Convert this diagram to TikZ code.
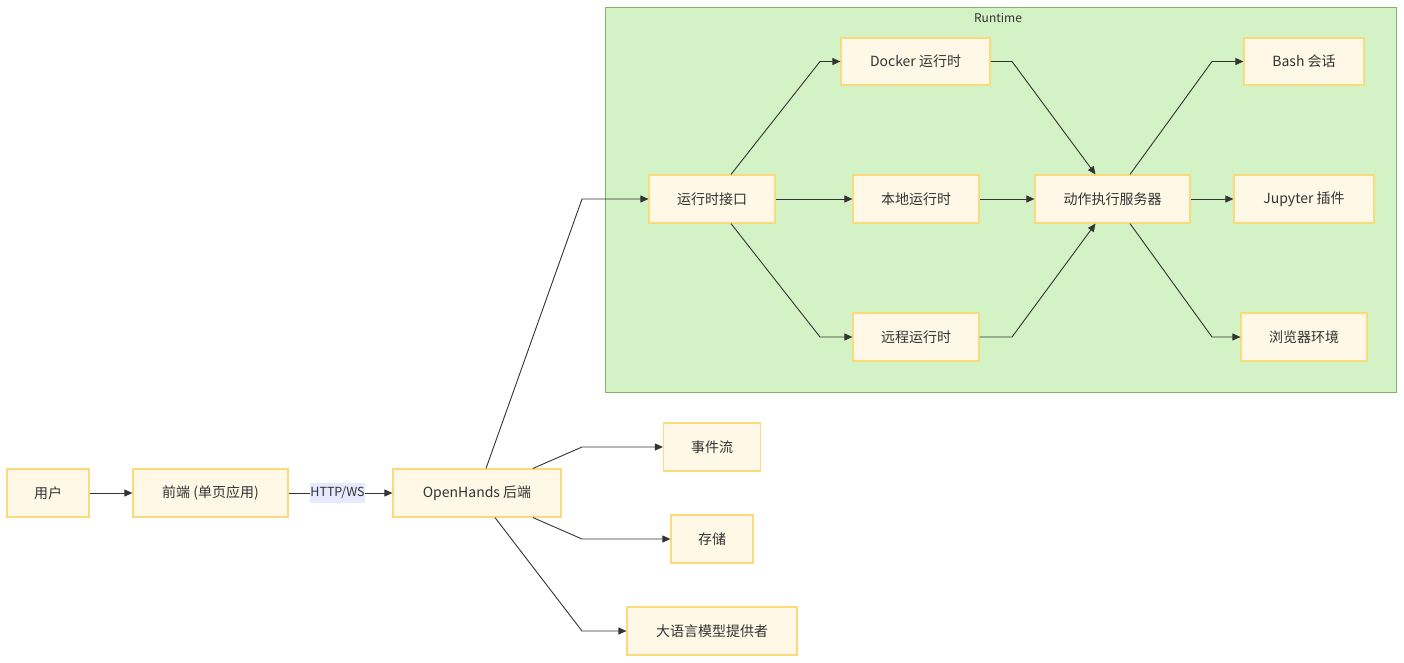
\documentclass[tikz,border=0pt]{standalone}
\usepackage{fontspec}
\setmainfont{Noto Sans CJK SC}
\usetikzlibrary{arrows.meta,calc}
\definecolor{nodefill}{HTML}{FFF8E6}
\definecolor{nodeline}{HTML}{FADA7A}
\definecolor{clfill}{HTML}{D3F2C6}
\definecolor{clline}{HTML}{82B366}
\definecolor{lblbg}{HTML}{E8E8FF}
\definecolor{txt}{HTML}{333333}
\definecolor{edge}{HTML}{333333}
\tikzset{
  box/.style={draw=nodeline, fill=nodefill, line width=1.2pt, minimum height=48pt, inner sep=0pt, text=txt, font=\fontsize{14}{16}\selectfont},
  conn/.style={draw=edge, line width=0.9pt, -{Triangle[length=8pt,width=7pt]}},
}
\begin{document}
\begin{tikzpicture}[x=1pt,y=-1pt]
\useasboundingbox (0,0) rectangle (1404,662);
% cluster
\node[draw=clline, fill=clfill, line width=1pt, minimum width=791pt, minimum height=385pt, inner sep=0pt] (rt) at (1000.5,199.5) {};
\node[text=txt, font=\fontsize{12}{14}\selectfont] (rtl) at (998,18) {Runtime};
% nodes
\node[box, minimum width=82pt] (user) at (48,493) {用户};
\node[box, minimum width=155pt] (fe) at (210.5,493) {前端 (单页应用)};
\node[box, minimum width=168pt] (be) at (477,493) {OpenHands 后端};
\node[box, minimum width=97pt] (ev) at (712,447) {事件流};
\node[box, minimum width=82pt] (st) at (712,539) {存储};
\node[box, minimum width=170pt] (llm) at (712,631) {大语言模型提供者};
\node[box, minimum width=126pt] (ri) at (712,199) {运行时接口};
\node[box, minimum width=149pt, minimum height=47pt] (dk) at (915.5,61.5) {Docker 运行时};
\node[box, minimum width=126pt] (lo) at (916,199) {本地运行时};
\node[box, minimum width=126pt] (re) at (916,337) {远程运行时};
\node[box, minimum width=155pt] (ae) at (1112.5,199) {动作执行服务器};
\node[box, minimum width=120pt, minimum height=47pt] (bash) at (1304,61.5) {Bash 会话};
\node[box, minimum width=140pt] (jup) at (1304,199) {Jupyter 插件};
\node[box, minimum width=126pt] (br) at (1304,337) {浏览器环境};
% edges
\draw[conn] (user) -- (fe);
\draw[draw=edge, line width=0.9pt] (fe.east) -- (310,493);
\node[fill=lblbg, inner sep=0pt, minimum width=55pt, minimum height=20pt, text=txt, font=\fontsize{12.5}{14}\selectfont] (lbl) at (337.5,493) {HTTP/WS};
\draw[conn] (lbl.east) -- (be.west);
\draw[conn] ($(be.north)+(9,0)$) -- (582,199) -- (ri.west);
\draw[conn] ($(be.north)+(56,0)$) -- (582,447) -- (ev.west);
\draw[conn] ($(be.south)+(56,0)$) -- (582,539) -- (st.west);
\draw[conn] ($(be.south)+(18,0)$) -- (582,631) -- (llm.west);
\draw[conn] ($(ri.north)+(19,0)$) -- (820,61.5) -- (dk.west);
\draw[conn] (ri) -- (lo);
\draw[conn] ($(ri.south)+(19,0)$) -- (820,337) -- (re.west);
\draw[conn] (dk.east) -- (1012,61.5) -- ($(ae.north)+(-17,0)$);
\draw[conn] (lo) -- (ae);
\draw[conn] (re.east) -- (1012,337) -- ($(ae.south)+(-17,0)$);
\draw[conn] ($(ae.north)+(17.5,0)$) -- (1212,61.5) -- (bash.west);
\draw[conn] (ae) -- (jup);
\draw[conn] ($(ae.south)+(17.5,0)$) -- (1212,337) -- (br.west);
\end{tikzpicture}
\end{document}
